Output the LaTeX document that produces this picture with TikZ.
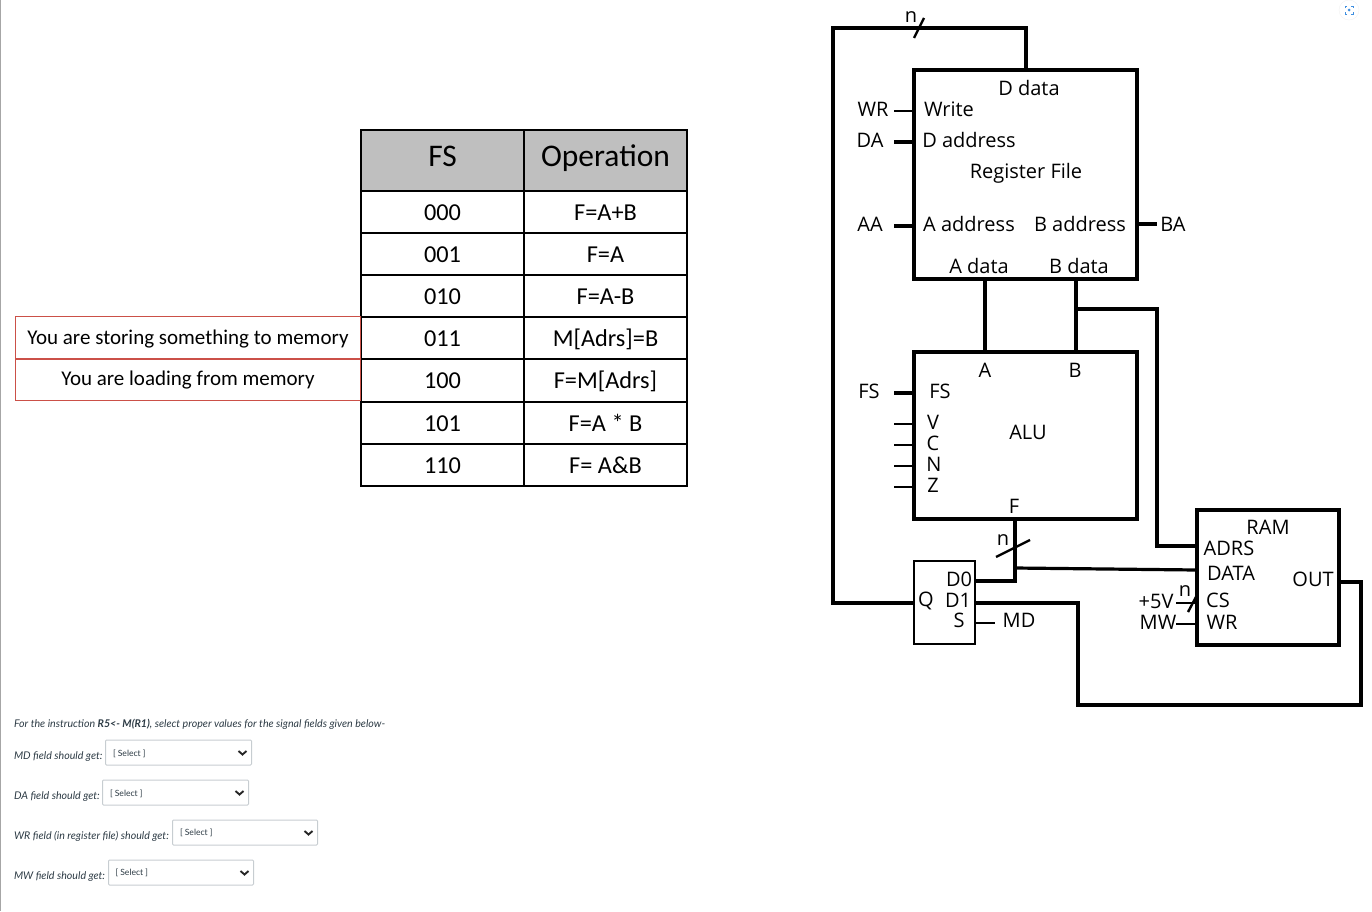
\documentclass[tikz,border=0pt]{standalone}
\usepackage{xcolor}
\usepackage{fontspec}
\setmainfont{Carlito}
\newfontfamily\circuitfont{Open Sans}
\newfontfamily\formfont{Lato}
\definecolor{HeadGray}{HTML}{BFBFBF}
\definecolor{NoteRed}{HTML}{CB5048}
\definecolor{FormText}{HTML}{2D3B45}
\definecolor{FormBorder}{HTML}{C7CDD1}
\definecolor{IconBlue}{HTML}{3F8FE0}
\tikzset{
  BaseNode/.style = {align=center, inner sep=0pt, outer sep=0pt, text centered},
  HeadCell/.style = {BaseNode, rectangle, draw=black, line width=1.6pt, fill=HeadGray, minimum height=61pt, text height=19pt, text depth=8pt, font=\fontsize{31.5}{33}\selectfont},
  BodyCell/.style = {BaseNode, rectangle, draw=black, line width=1.6pt, minimum height=42pt, text height=16pt, text depth=0pt, font=\fontsize{24.3}{26}\selectfont},
  NoteNode/.style = {BaseNode, rectangle, draw=NoteRed, line width=1.2pt, minimum width=345pt, minimum height=41.5pt, text height=15pt, text depth=2pt, font=\fontsize{21}{23}\selectfont},
  BlockNode/.style = {BaseNode, rectangle, draw=black, line width=3.2pt},
  PinNode/.style = {BaseNode, font=\circuitfont\fontsize{20}{22}\selectfont},
  FormNode/.style = {BaseNode, anchor=west, text=FormText, font=\formfont\itshape\fontsize{10.63}{12}\selectfont},
  SelectNode/.style = {BaseNode, rectangle, draw=FormBorder, line width=1pt, rounded corners=1pt, minimum width=146pt, minimum height=25pt},
  SelectText/.style = {BaseNode, anchor=west, text=FormText, font=\formfont\fontsize{8.6}{10}\selectfont},
  ThickWire/.style = {draw=black, line width=3.2pt, line join=miter},
  ThinWire/.style = {draw=black, line width=1.3pt},
  Chevron/.style = {draw=black!85, line width=1.9pt},
}
\begin{document}
\begin{tikzpicture}[x=1pt,y=-1pt]
    \useasboundingbox (0,0) rectangle (1372,911);
    \coordinate (PageTop) at (0.7,0);
    \coordinate (PageBottom) at (0.7,911);
    \draw [gray!70, line width=1.4pt] (PageTop) -- (PageBottom);
    % table
    \node [HeadCell, minimum width=163pt] (HeadFS) at (442.5,160.5) {FS};
    \node [HeadCell, minimum width=163pt] (HeadOp) at (605.5,160.5) {Operation};
    \node [BodyCell, minimum width=163pt] (FS0) at (442.5,212) {000};
    \node [BodyCell, minimum width=163pt] (Op0) at (605.5,212) {F=A+B};
    \node [BodyCell, minimum width=163pt] (FS1) at (442.5,254) {001};
    \node [BodyCell, minimum width=163pt] (Op1) at (605.5,254) {F=A};
    \node [BodyCell, minimum width=163pt] (FS2) at (442.5,296) {010};
    \node [BodyCell, minimum width=163pt] (Op2) at (605.5,296) {F=A-B};
    \node [BodyCell, minimum width=163pt] (FS3) at (442.5,338) {011};
    \node [BodyCell, minimum width=163pt] (Op3) at (605.5,338) {M[Adrs]=B};
    \node [BodyCell, minimum width=163pt] (FS4) at (442.5,380.5) {100};
    \node [BodyCell, minimum width=163pt] (Op4) at (605.5,380.5) {F=M[Adrs]};
    \node [BodyCell, minimum width=163pt] (FS5) at (442.5,423) {101};
    \node [BodyCell, minimum width=163pt] (Op5) at (605.5,423) {F=A * B};
    \node [BodyCell, minimum width=163pt] (FS6) at (442.5,465) {110};
    \node [BodyCell, minimum width=163pt] (Op6) at (605.5,465) {F= A\&B};
    \node [NoteNode] (NoteStore) at (188,337.5) {You are storing something to memory};
    \node [NoteNode, text height=14pt, text depth=3pt] (NoteLoad) at (188,380) {You are loading from memory};
    % blocks
    \node [BlockNode, minimum width=223pt, minimum height=209pt] (RegFile) at (1025.5,174.5) {};
    \node [BlockNode, minimum width=223pt, minimum height=167pt] (ALU) at (1025.5,435.5) {};
    \node [BlockNode, line width=2.6pt, minimum width=61pt, minimum height=83pt] (Mux) at (944.5,602.5) {};
    \node [BlockNode, minimum width=142pt, minimum height=135pt] (RAM) at (1268,577.5) {};
    % register file text
    \node [PinNode] (DData) at (1029,88) {D data};
    \node [PinNode] (WriteText) at (949,109) {Write};
    \node [PinNode] (DAddr) at (969,140) {D address};
    \node [PinNode] (RegText) at (1026,173) {Register File};
    \node [PinNode] (AAddr) at (969,224) {A address};
    \node [PinNode] (BAddr) at (1080,224) {B address};
    \node [PinNode] (AData) at (979,266) {A data};
    \node [PinNode] (BData) at (1079,266) {B data};
    \node [PinNode] (WRText) at (873,109) {WR};
    \node [PinNode] (DAText) at (870,140) {DA};
    \node [PinNode] (AAText) at (870,224) {AA};
    \node [PinNode] (BAText) at (1173,224) {BA};
    \node [PinNode] (BusTopN) at (911,17) {n};
    % alu text
    \node [PinNode] (FSText) at (869,391) {FS};
    \node [PinNode] (FSPin) at (940,391) {FS};
    \node [PinNode] (APin) at (985,370) {A};
    \node [PinNode] (BPin) at (1075,370) {B};
    \node [PinNode] (VPin) at (933,422) {V};
    \node [PinNode] (CPin) at (933,443) {C};
    \node [PinNode] (NPin) at (934,464) {N};
    \node [PinNode] (ZPin) at (933,485) {Z};
    \node [PinNode] (ALUText) at (1028,432) {ALU};
    \node [PinNode] (FPin) at (1014,506) {F};
    \node [PinNode] (BusMidN) at (1003,540) {n};
    % mux text
    \node [PinNode] (QPin) at (926,601) {Q};
    \node [PinNode] (D0Pin) at (959,579) {D0};
    \node [PinNode] (D1Pin) at (958,600) {D1};
    \node [PinNode] (SPin) at (959,620) {S};
    \node [PinNode] (MDText) at (1019,620) {MD};
    % ram text
    \node [PinNode] (RAMText) at (1268,527) {RAM};
    \node [PinNode] (ADRSPin) at (1229,548) {ADRS};
    \node [PinNode] (DATAPin) at (1231,573) {DATA};
    \node [PinNode] (OUTPin) at (1313,579) {OUT};
    \node [PinNode] (CSPin) at (1218,600) {CS};
    \node [PinNode] (WRPin) at (1222,622) {WR};
    \node [PinNode] (FiveV) at (1156,601) {+5V};
    \node [PinNode] (MWText) at (1158,622) {MW};
    \node [PinNode] (BusRamN) at (1185,591) {n};
    % wire ends
    \coordinate (WREnd) at (894,111);
    \coordinate (DAEnd) at (894,142);
    \coordinate (AAEnd) at (894,226);
    \coordinate (BAEnd) at (1157,224);
    \coordinate (FSEnd) at (894,393);
    \coordinate (VEnd) at (894,424);
    \coordinate (CEnd) at (894,445);
    \coordinate (NEnd) at (894,466);
    \coordinate (ZEnd) at (894,487);
    \coordinate (QOut) at (914,603);
    \coordinate (BusLeft) at (833,28);
    \coordinate (BusRight) at (1026,28);
    \coordinate (BSplit) at (1076,309);
    \coordinate (BRight) at (1157,309);
    \coordinate (AdrsIn) at (1157,546);
    \coordinate (D0In) at (975,581);
    \coordinate (FDown) at (1015,581);
    \coordinate (FSplit) at (1015,568);
    \coordinate (DataIn) at (1197,570);
    \coordinate (D1In) at (975,603);
    \coordinate (LoopA) at (1078,603);
    \coordinate (LoopB) at (1078,705);
    \coordinate (LoopC) at (1361,705);
    \coordinate (LoopD) at (1361,582);
    \coordinate (OutPort) at (1339,582);
    \coordinate (SOut) at (975,623);
    \coordinate (SEnd) at (995,623);
    \coordinate (FiveEnd) at (1176,603);
    \coordinate (MWEnd) at (1176,624);
    % wires
    \draw [ThickWire] (QOut) -- (QOut -| BusLeft) -- (BusLeft) -- (BusRight) -- (BusRight |- RegFile.north);
    \draw [ThinWire] (WREnd) -- (WREnd -| RegFile.west);
    \draw [ThickWire] (DAEnd) -- (DAEnd -| RegFile.west);
    \draw [ThickWire] (AAEnd) -- (AAEnd -| RegFile.west);
    \draw [ThickWire] (BAEnd -| RegFile.east) -- (BAEnd);
    \draw [ThickWire] (APin |- RegFile.south) -- (APin |- ALU.north);
    \draw [ThickWire] (BSplit |- RegFile.south) -- (BSplit |- ALU.north);
    \draw [ThickWire] (BSplit) -- (BRight) -- (AdrsIn) -- (AdrsIn -| RAM.west);
    \draw [ThickWire] (FSEnd) -- (FSEnd -| ALU.west);
    \draw [ThinWire] (VEnd) -- (VEnd -| ALU.west);
    \draw [ThinWire] (CEnd) -- (CEnd -| ALU.west);
    \draw [ThinWire] (NEnd) -- (NEnd -| ALU.west);
    \draw [ThinWire] (ZEnd) -- (ZEnd -| ALU.west);
    \draw [ThickWire] (FDown |- ALU.south) -- (FDown) -- (D0In);
    \draw [ThickWire] (FSplit) -- (DataIn);
    \draw [ThickWire] (D1In) -- (LoopA) -- (LoopB) -- (LoopC) -- (LoopD) -- (OutPort);
    \draw [ThinWire] (SOut) -- (SEnd);
    \draw [ThinWire] (FiveEnd) -- (FiveEnd -| RAM.west);
    \draw [ThinWire] (MWEnd) -- (MWEnd -| RAM.west);
    % bus slashes
    \coordinate (SlashTopA) at (914,38);
    \coordinate (SlashTopB) at (924,18);
    \coordinate (SlashMidA) at (996,557);
    \coordinate (SlashMidB) at (1030,540);
    \coordinate (SlashRamA) at (1188,612);
    \coordinate (SlashRamB) at (1197,595);
    \draw [ThickWire, line width=2.4pt] (SlashTopA) -- (SlashTopB);
    \draw [ThickWire, line width=2.4pt] (SlashMidA) -- (SlashMidB);
    \draw [ThickWire, line width=2.4pt] (SlashRamA) -- (SlashRamB);
    % form
    \node [FormNode] (FormIntro) at (14,724) {For the instruction \textbf{R5<- M(R1)}, select proper values for the signal fields given below-};
    \node [FormNode] (MDField) at (14,757) {MD field should get:};
    \node [FormNode] (DAField) at (14,797) {DA field should get:};
    \node [FormNode] (WRField) at (14,836.5) {WR field (in register file) should get:};
    \node [FormNode] (MWField) at (14,877) {MW field should get:};
    \node [SelectNode] (MDSelect) at (178.5,752.5) {};
    \node [SelectNode] (DASelect) at (175.5,792.5) {};
    \node [SelectNode, minimum width=145pt] (WRSelect) at (245,832.5) {};
    \node [SelectNode, minimum width=145pt] (MWSelect) at (181,872.5) {};
    \node [SelectText] (MDChoice) at (113,754) {[ Select ]};
    \node [SelectText] (DAChoice) at (110,794) {[ Select ]};
    \node [SelectText] (WRChoice) at (180,833) {[ Select ]};
    \node [SelectText] (MWChoice) at (115.5,873) {[ Select ]};
    \draw [Chevron] ([shift={(-13,-1.5)}]MDSelect.east) -- ([shift={(-9,2)}]MDSelect.east) -- ([shift={(-5,-1.5)}]MDSelect.east);
    \draw [Chevron] ([shift={(-13,-1.5)}]DASelect.east) -- ([shift={(-9,2)}]DASelect.east) -- ([shift={(-5,-1.5)}]DASelect.east);
    \draw [Chevron] ([shift={(-13,-1.5)}]WRSelect.east) -- ([shift={(-9,2)}]WRSelect.east) -- ([shift={(-5,-1.5)}]WRSelect.east);
    \draw [Chevron] ([shift={(-13,-1.5)}]MWSelect.east) -- ([shift={(-9,2)}]MWSelect.east) -- ([shift={(-5,-1.5)}]MWSelect.east);
    % corner icon
    \fill [white, draw=black!5] (1349,10) circle (10);
    \draw [IconBlue, line width=1pt] (1345,8) -- (1345,6) -- (1347,6) (1351,6) -- (1353,6) -- (1353,8) (1353,12) -- (1353,14) -- (1351,14) (1347,14) -- (1345,14) -- (1345,12);
    \fill [IconBlue] (1349,10) circle (1.5);
\end{tikzpicture}
\end{document}
